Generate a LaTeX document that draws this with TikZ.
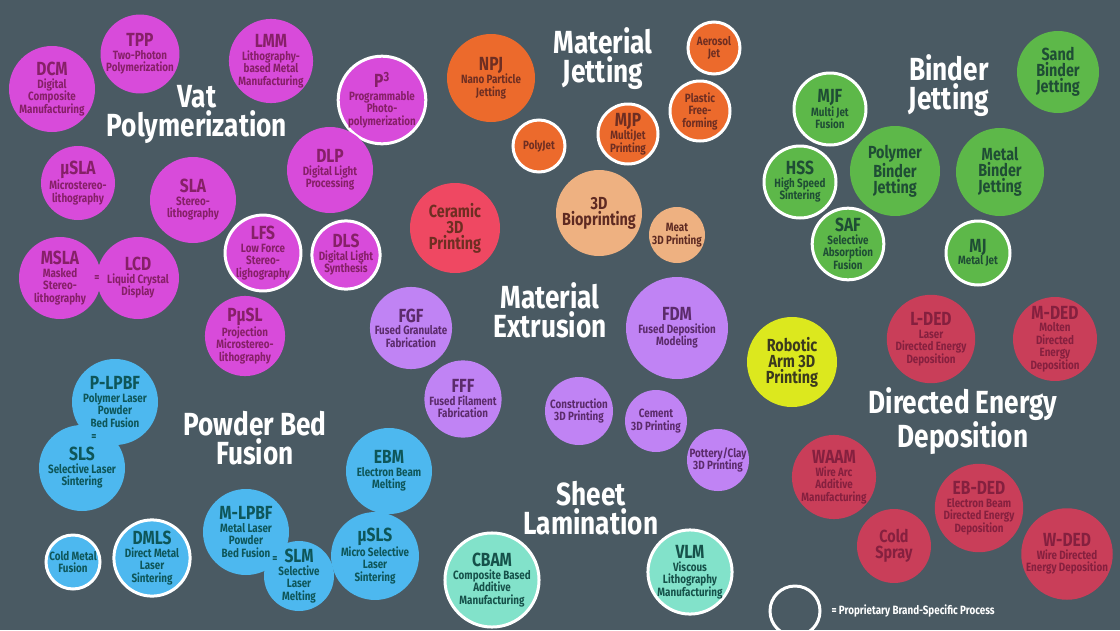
\documentclass[tikz,border=0pt]{standalone}
\usepackage{fontspec}
\setmainfont{Fira Sans}[FakeStretch=0.82]
\usepackage{xcolor}
\definecolor{BoardGrey}{HTML}{4A5A63}
\definecolor{VatPink}{HTML}{D84BDA}
\definecolor{VatText}{HTML}{862068}
\definecolor{JetOrange}{HTML}{EC6A2C}
\definecolor{JetText}{HTML}{6E2E22}
\definecolor{CeramicRed}{HTML}{EF4862}
\definecolor{BioPeach}{HTML}{EEB181}
\definecolor{BioText}{HTML}{5E2A22}
\definecolor{BinderGreen}{HTML}{5DB849}
\definecolor{BinderText}{HTML}{1F4D35}
\definecolor{ExtLilac}{HTML}{C083F4}
\definecolor{ExtText}{HTML}{5B2B6B}
\definecolor{RoboYellow}{HTML}{DCE81E}
\definecolor{RoboText}{HTML}{3B3A1E}
\definecolor{PbfBlue}{HTML}{4DB8EF}
\definecolor{PbfText}{HTML}{0E5659}
\definecolor{SheetMint}{HTML}{82E2CA}
\definecolor{SheetText}{HTML}{16514A}
\definecolor{DedRed}{HTML}{C93E59}
\definecolor{DedText}{HTML}{85203F}
\newcommand{\titleFont}{\bfseries\fontsize{32}{29}\selectfont}
\newcommand{\abbrFont}{\bfseries\fontsize{19}{17}\selectfont}
\newcommand{\descFont}{\bfseries\fontsize{12}{12.5}\selectfont}
\newcommand{\bigFont}{\bfseries\fontsize{17.5}{16}\selectfont}
\tikzstyle{procCircle}=[circle, inner sep=0pt, align=center, font=\descFont]
\tikzstyle{vatNode}=[procCircle, fill=VatPink, text=VatText]
\tikzstyle{jetNode}=[procCircle, fill=JetOrange, text=JetText]
\tikzstyle{binderNode}=[procCircle, fill=BinderGreen, text=BinderText]
\tikzstyle{extNode}=[procCircle, fill=ExtLilac, text=ExtText]
\tikzstyle{pbfNode}=[procCircle, fill=PbfBlue, text=PbfText]
\tikzstyle{sheetNode}=[procCircle, fill=SheetMint, text=SheetText]
\tikzstyle{dedNode}=[procCircle, fill=DedRed, text=DedText]
\tikzstyle{brandRing}=[draw=white, line width=3pt]
\tikzstyle{groupTitle}=[align=center, text=white, font=\titleFont, inner sep=0pt]
\tikzstyle{eqSign}=[inner sep=0pt, font=\descFont]

\begin{document}
\begin{tikzpicture}[x=1pt, y=-1pt]
    \fill[BoardGrey] (0,0) rectangle (1120,630);
    \useasboundingbox (0,0) rectangle (1120,630);
    \clip (0,0) rectangle (1120,630);

    % Vat polymerization
    \node[groupTitle] (vatTitle) at (197,114) {Vat\\Polymerization};
    \node[vatNode, minimum size=86] (dcm) at (52,89) {{\abbrFont DCM}\\Digital\\Composite\\Manufacturing};
    \node[vatNode, minimum size=74] (tpp) at (140,54) {{\abbrFont TPP}\\Two-Photon\\Polymerization};
    \node[vatNode, minimum size=84] (lmm) at (271,61) {{\abbrFont LMM}\\Lithography-\\based Metal\\Manufacturing};
    \node[vatNode, brandRing, minimum size=68] (pthree) at (382,100) {{\abbrFont P\textsuperscript{3}}\\Programmable\\Photo-\\polymerization};
    \node[vatNode, minimum size=86] (dlp) at (330,170) {{\abbrFont DLP}\\Digital Light\\Processing};
    \node[vatNode, minimum size=74] (musla) at (78,183) {{\abbrFont µSLA}\\Microstereo-\\lithography};
    \node[vatNode, minimum size=86] (sla) at (193,200) {{\abbrFont SLA}\\Stereo-\\lithography};
    \node[vatNode, minimum size=82] (msla) at (60,278) {{\abbrFont MSLA}\\Masked\\Stereo-\\lithography};
    \node[vatNode, minimum size=82] (lcd) at (138,278) {{\abbrFont LCD}\\Liquid Crystal\\Display};
    \node[eqSign, text=VatText] (eqVat) at (97,279) {=};
    \node[vatNode, brandRing, minimum size=64] (lfs) at (263,253) {{\abbrFont LFS}\\Low Force\\Stereo-\\lighography};
    \node[vatNode, brandRing, minimum size=66] (dls) at (346,255) {{\abbrFont DLS}\\Digital Light\\Synthesis};
    \node[vatNode, minimum size=76] (pmusl) at (245,336) {{\abbrFont PµSL}\\Projection\\Microstereo-\\lithography};

    % Material jetting
    \node[groupTitle] (jetTitle) at (603,59) {Material\\Jetting};
    \node[jetNode, minimum size=88] (npj) at (491,78) {{\abbrFont NPJ}\\Nano Particle\\Jetting};
    \node[jetNode, brandRing, minimum size=52] (aerosol) at (714,48) {Aerosol\\Jet};
    \node[jetNode, brandRing, minimum size=60] (plastic) at (700,111) {Plastic\\Free-\\forming};
    \node[jetNode, brandRing, minimum size=60] (mjp) at (628,134) {{\abbrFont MJP}\\MultiJet\\Printing};
    \node[jetNode, brandRing, minimum size=52] (polyjet) at (539,146) {PolyJet};
    \node[procCircle, fill=CeramicRed, text=JetText, font=\bigFont, minimum size=90] (ceramic) at (455,228) {Ceramic\\3D\\Printing};
    \node[procCircle, fill=BioPeach, text=BioText, font=\bigFont, minimum size=86] (bioprint) at (599,213) {3D\\Bioprinting};
    \node[procCircle, fill=BioPeach, text=BioText, minimum size=56] (meat) at (677,235) {Meat\\3D Printing};

    % Binder jetting
    \node[groupTitle] (binderTitle) at (949,86) {Binder\\Jetting};
    \node[binderNode, font=\bigFont, minimum size=82] (sand) at (1058,72) {Sand\\Binder\\Jetting};
    \node[binderNode, brandRing, minimum size=72] (mjf) at (830,109) {{\abbrFont MJF}\\Multi Jet\\Fusion};
    \node[binderNode, font=\bigFont, minimum size=90] (polybinder) at (895,171) {Polymer\\Binder\\Jetting};
    \node[binderNode, font=\bigFont, minimum size=88] (metalbinder) at (1000,172) {Metal\\Binder\\Jetting};
    \node[binderNode, brandRing, minimum size=72] (hss) at (800,182) {{\abbrFont HSS}\\High Speed\\Sintering};
    \node[binderNode, brandRing, minimum size=68] (saf) at (848,244) {{\abbrFont SAF}\\Selective\\Absorption\\Fusion};
    \node[binderNode, brandRing, minimum size=64] (mj) at (978,253) {{\abbrFont MJ}\\Metal Jet};

    % Material extrusion
    \node[groupTitle] (extTitle) at (550,310) {Material\\Extrusion};
    \node[extNode, minimum size=76] (fgf) at (411,328) {{\abbrFont FGF}\\Fused Granulate\\Fabrication};
    \node[extNode, minimum size=76] (fff) at (463,399) {{\abbrFont FFF}\\Fused Filament\\Fabrication};
    \node[extNode, minimum size=102] (fdm) at (677,328) {{\abbrFont FDM}\\Fused Deposition\\Modeling};
    \node[extNode, minimum size=68] (construction) at (579,411) {Construction\\3D Printing};
    \node[extNode, minimum size=62] (cement) at (656,421) {Cement\\3D Printing};
    \node[extNode, minimum size=62] (pottery) at (718,460) {Pottery/Clay\\3D Printing};
    \node[procCircle, fill=RoboYellow, text=RoboText, font=\bigFont, minimum size=90] (robotic) at (792,362) {Robotic\\Arm 3D\\Printing};

    % Directed energy deposition
    \node[groupTitle] (dedTitle) at (963,421) {Directed Energy\\Deposition};
    \node[dedNode, minimum size=84] (lded) at (931,339) {{\abbrFont L-DED}\\Laser\\Directed Energy\\Deposition};
    \node[dedNode, minimum size=84] (mded) at (1055,339) {{\abbrFont M-DED}\\Molten\\Directed\\Energy\\Deposition};
    \node[dedNode, minimum size=84] (waam) at (834,477) {{\abbrFont WAAM}\\Wire Arc\\Additive\\Manufacturing};
    \node[dedNode, minimum size=88] (ebded) at (979,508) {{\abbrFont EB-DED}\\Electron Beam\\Directed Energy\\Deposition};
    \node[dedNode, font=\bigFont, minimum size=74] (coldspray) at (894,546) {Cold\\Spray};
    \node[dedNode, minimum size=88] (wded) at (1067,554) {{\abbrFont W-DED}\\Wire Directed\\Energy Deposition};

    % Powder bed fusion
    \node[groupTitle] (pbfTitle) at (255,438) {Powder Bed\\Fusion};
    \node[pbfNode, minimum size=86] (plpbf) at (115,402) {{\abbrFont P-LPBF}\\Polymer Laser\\Powder\\Bed Fusion};
    \node[pbfNode, minimum size=86] (sls) at (82,468) {{\abbrFont SLS}\\Selective Laser\\Sintering};
    \node[eqSign, text=PbfText] (eqPoly) at (94,438) {=};
    \node[pbfNode, minimum size=86] (ebm) at (389,471) {{\abbrFont EBM}\\Electron Beam\\Melting};
    \node[pbfNode, minimum size=86] (mlpbf) at (246,532) {{\abbrFont M-LPBF}\\Metal Laser\\Powder\\Bed Fusion};
    \node[pbfNode, minimum size=70] (slm) at (299,576) {{\abbrFont SLM}\\Selective\\Laser\\Melting};
    \node[eqSign, text=PbfText] (eqMetal) at (275,560) {=};
    \node[pbfNode, minimum size=74] (musls) at (375,556) {{\abbrFont µSLS}\\Micro Selective\\Laser\\Sintering};
    \node[pbfNode, brandRing, minimum size=54] (cmf) at (73,562) {Cold Metal\\Fusion};
    \node[pbfNode, brandRing, minimum size=72] (dmls) at (152,558) {{\abbrFont DMLS}\\Direct Metal\\Laser\\Sintering};

    % Sheet lamination
    \node[groupTitle] (sheetTitle) at (591,508) {Sheet\\Lamination};
    \node[sheetNode, brandRing, minimum size=88] (cbam) at (492,580) {{\abbrFont CBAM}\\Composite Based\\Additive\\Manufacturing};
    \node[sheetNode, brandRing, minimum size=80] (vlm) at (690,572) {{\abbrFont VLM}\\Viscous\\Lithography\\Manufacturing};

    % Legend
    \node[procCircle, brandRing, minimum size=50] (ringLegend) at (795,611) {};
    \node[anchor=west, text=white, font=\descFont] (ringText) at (828,611) {= Proprietary Brand-Specific Process};
\end{tikzpicture}
\end{document}
